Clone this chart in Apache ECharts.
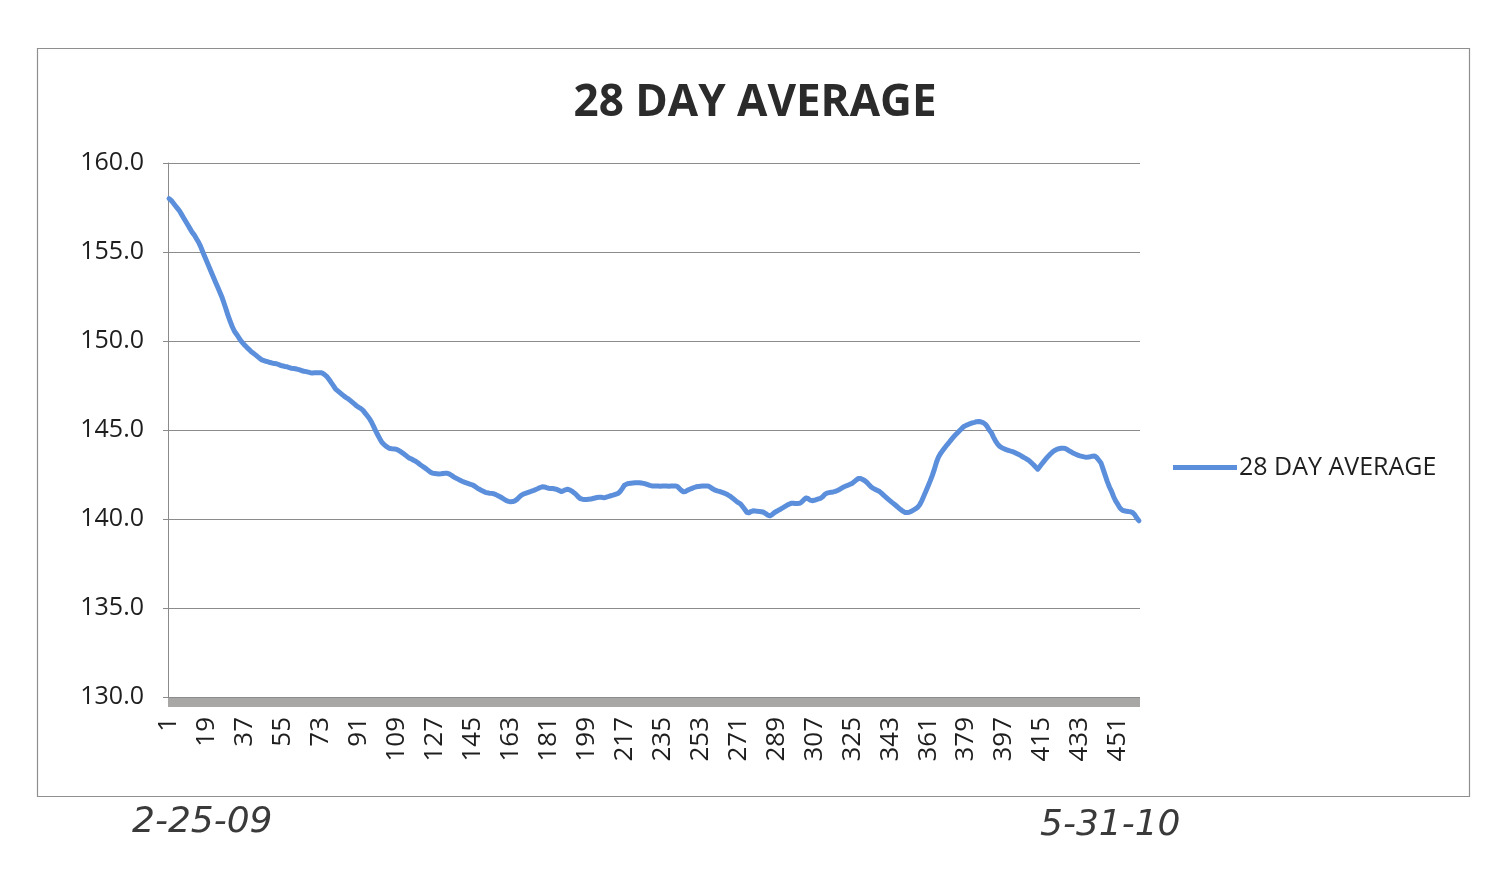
<!DOCTYPE html>
<html>
<head>
<meta charset="utf-8">
<script src="https://cdn.jsdelivr.net/npm/echarts@6/dist/echarts.min.js"></script>
<style>
html,body{margin:0;padding:0;background:#fff;}
#main{width:1512px;height:882px;}
</style>
</head>
<body>
<div id="main"></div>
<script>
var titleText = '28 DAY AVERAGE';
var seriesName = '28 DAY AVERAGE';
var startNote = '2-25-09';
var endNote = '5-31-10';
var yMin = 130, yMax = 160, yStep = 5;

// day numbers 1..461
var categories = [];
for (var d = 1; d <= 461; d++) categories.push(String(d));

var avgValues = [
158.0,157.9,157.75,157.6,157.45,157.3,157.1,156.9,156.7,156.5,
156.3,156.1,155.95,155.75,155.55,155.3,155.0,154.72,154.44,154.16,
153.88,153.6,153.32,153.05,152.77,152.49,152.15,151.8,151.42,151.1,
150.8,150.55,150.38,150.2,150.02,149.88,149.75,149.63,149.52,149.4,
149.31,149.22,149.12,149.02,148.94,148.9,148.86,148.83,148.79,148.76,
148.73,148.72,148.68,148.62,148.6,148.57,148.55,148.5,148.47,148.46,
148.44,148.41,148.38,148.33,148.3,148.28,148.25,148.22,148.2,148.21,
148.22,148.22,148.22,148.18,148.09,147.98,147.82,147.65,147.48,147.3,
147.2,147.1,147.0,146.9,146.82,146.75,146.65,146.55,146.45,146.35,
146.27,146.2,146.1,145.95,145.8,145.65,145.45,145.2,144.95,144.72,
144.5,144.3,144.18,144.08,144.0,143.96,143.94,143.93,143.91,143.85,
143.77,143.69,143.6,143.5,143.42,143.37,143.3,143.24,143.16,143.06,
142.98,142.9,142.82,142.72,142.63,142.58,142.55,142.54,142.53,142.54,
142.56,142.57,142.57,142.52,142.45,142.37,142.3,142.24,142.18,142.12,
142.07,142.03,141.99,141.95,141.91,141.84,141.75,141.68,141.62,141.56,
141.5,141.47,141.45,141.44,141.42,141.37,141.31,141.25,141.18,141.1,
141.03,140.99,140.97,140.98,141.02,141.1,141.22,141.33,141.4,141.44,
141.48,141.52,141.57,141.61,141.66,141.71,141.77,141.81,141.8,141.76,
141.73,141.72,141.71,141.69,141.66,141.6,141.54,141.58,141.64,141.67,
141.64,141.57,141.48,141.38,141.25,141.15,141.11,141.1,141.1,141.11,
141.12,141.15,141.18,141.21,141.22,141.22,141.2,141.21,141.25,141.29,
141.32,141.36,141.4,141.44,141.55,141.72,141.9,141.96,142.0,142.01,
142.02,142.03,142.04,142.04,142.02,142.0,141.97,141.93,141.89,141.86,
141.85,141.85,141.85,141.84,141.85,141.86,141.85,141.84,141.85,141.86,
141.86,141.83,141.72,141.6,141.53,141.55,141.62,141.67,141.72,141.77,
141.81,141.83,141.84,141.85,141.86,141.86,141.84,141.76,141.68,141.62,
141.58,141.55,141.51,141.47,141.42,141.36,141.29,141.2,141.1,141.0,
140.92,140.85,140.7,140.55,140.38,140.35,140.42,140.46,140.45,140.43,
140.42,140.41,140.38,140.3,140.22,140.18,140.25,140.35,140.42,140.49,
140.55,140.62,140.7,140.77,140.83,140.88,140.88,140.87,140.87,140.88,
140.95,141.07,141.18,141.15,141.06,141.03,141.05,141.09,141.13,141.16,
141.25,141.38,141.45,141.48,141.5,141.52,141.55,141.6,141.66,141.73,
141.8,141.85,141.9,141.95,142.0,142.1,142.2,142.28,142.27,142.22,
142.15,142.05,141.92,141.8,141.72,141.66,141.6,141.54,141.44,141.33,
141.22,141.12,141.02,140.92,140.83,140.73,140.63,140.53,140.44,140.37,
140.36,140.38,140.43,140.5,140.57,140.65,140.8,141.02,141.3,141.57,
141.85,142.14,142.45,142.8,143.2,143.5,143.7,143.86,144.02,144.17,
144.31,144.46,144.6,144.73,144.85,144.97,145.09,145.2,145.26,145.31,
145.36,145.4,145.43,145.47,145.48,145.46,145.42,145.34,145.2,145.0,
144.85,144.6,144.38,144.2,144.08,144.0,143.95,143.9,143.86,143.82,
143.78,143.74,143.68,143.62,143.56,143.48,143.42,143.35,143.27,143.16,
143.05,142.92,142.8,142.95,143.1,143.25,143.4,143.53,143.65,143.76,
143.85,143.91,143.95,143.97,143.98,143.96,143.9,143.82,143.76,143.69,
143.64,143.59,143.55,143.52,143.49,143.47,143.48,143.5,143.53,143.54,
143.45,143.3,143.15,142.8,142.45,142.1,141.8,141.55,141.25,141.0,
140.82,140.62,140.5,140.46,140.44,140.42,140.41,140.36,140.24,140.05,
139.9
];

var chart = echarts.init(document.getElementById('main'), null, {renderer:'canvas'});
var option = {
  backgroundColor: '#ffffff',
  animation: false,
  title: {
    text: titleText,
    left: 750, top: 76, textAlign: 'center',
    textStyle: {fontFamily: 'Open Sans', fontWeight: 'bold', fontSize: 44, color: '#2b2b2b'}
  },
  legend: {
    data: [{name: seriesName, icon: 'rect'}],
    left: 1168, top: 450,
    itemWidth: 64, itemHeight: 5, itemGap: 4,
    textStyle: {fontFamily: 'Open Sans', fontSize: 25, color: '#1e1e1e', padding: [0,0,0,-3]}
  },
  grid: {left: 168, right: 372, top: 163, bottom: 185, containLabel: false},
  xAxis: {
    type: 'category',
    data: categories,
    boundaryGap: true,
    offset: 5,
    axisLine: {lineStyle: {color: '#a9a6a6', width: 9, cap: 'butt'}},
    axisTick: {show: false},
    axisLabel: {
      interval: 17, rotate: 90, margin: 15,
      fontFamily: 'Open Sans', fontSize: 26, color: '#1e1e1e'
    },
    splitLine: {show: false}
  },
  yAxis: {
    type: 'value',
    min: yMin, max: yMax, interval: yStep,
    axisLine: {show: true, lineStyle: {color: '#8a8a8a', width: 1}},
    axisTick: {show: true, length: 5, lineStyle: {color: '#8a8a8a'}},
    axisLabel: {
      margin: 24, fontFamily: 'Open Sans', fontSize: 25, color: '#1e1e1e',
      formatter: function (v) { return v.toFixed(1); }
    },
    splitLine: {lineStyle: {color: '#8c8c8c', width: 1}}
  },
  series: [{
    name: seriesName,
    type: 'line',
    data: avgValues,
    symbol: 'none',
    smooth: false,
    lineStyle: {color: '#5b8edb', width: 5, cap: 'round', join: 'round'},
    itemStyle: {color: '#5b8edb'}
  }],
  graphic: [
    {type: 'rect', shape: {x: 37.5, y: 48.5, width: 1432, height: 748},
     style: {fill: 'none', stroke: '#8f8f8f', lineWidth: 1.2}, silent: true, z: -1},
    {type: 'text', left: 132, top: 805,
     style: {text: startNote, font: 'italic 300 36px "DejaVu Sans"', fill: '#3a3a3a'}},
    {type: 'text', left: 1040, top: 808,
     style: {text: endNote, font: 'italic 300 36px "DejaVu Sans"', fill: '#3a3a3a'}}
  ]
};
chart.setOption(option);
</script>
</body>
</html>
